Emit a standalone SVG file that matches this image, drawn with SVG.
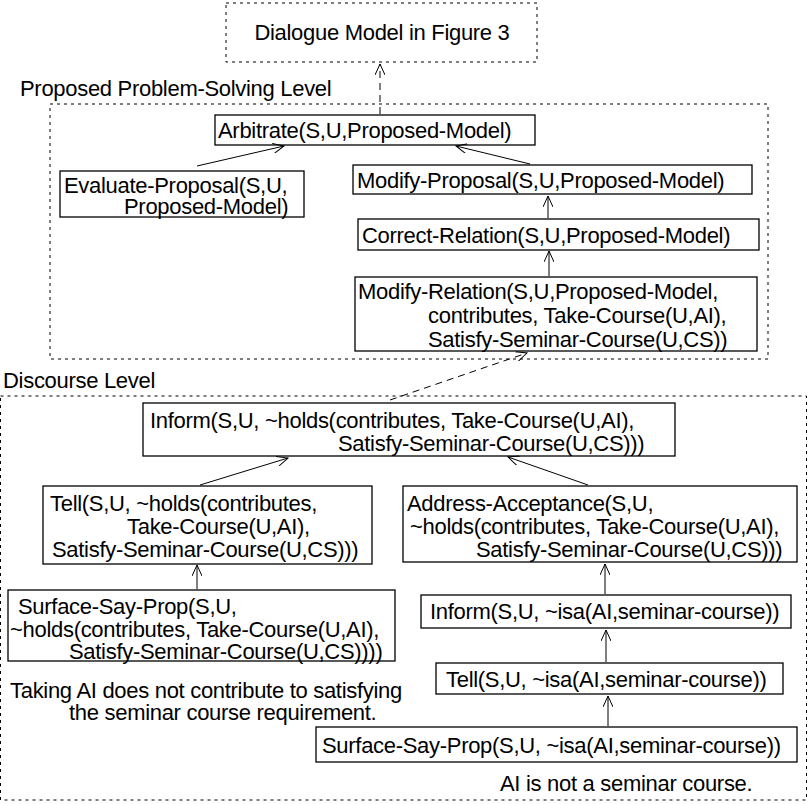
<svg xmlns="http://www.w3.org/2000/svg" width="811" height="804" viewBox="0 0 811 804">
<defs>
<marker id="ah" markerWidth="12" markerHeight="10" refX="11" refY="5" orient="auto" markerUnits="userSpaceOnUse">
<path d="M0,0 L11,5 L0,10" fill="none" stroke="#000" stroke-width="1"/>
</marker>
<style>
text{font-family:"Liberation Sans",Arial,sans-serif;font-size:22px;fill:#000;letter-spacing:-0.3px}
.b{fill:#fff;stroke:#000;stroke-width:1.3}
.d{fill:none;stroke:#000;stroke-width:1;stroke-dasharray:3,4}
.c{stroke:#000;stroke-width:1;fill:none;marker-end:url(#ah)}
.cd{stroke:#000;stroke-width:1;fill:none;stroke-dasharray:7,5;marker-end:url(#ah)}
</style>
</defs>
<rect width="811" height="804" fill="#fff"/>
<g id="levels">
<rect class="d" x="226" y="3" width="311" height="59"/>
<rect class="d" x="50" y="104" width="718" height="255"/>
<rect class="d" x="0.5" y="396" width="806" height="404"/>
<text x="20" y="96">Proposed Problem-Solving Level</text>
<text x="3" y="388">Discourse Level</text>
</g>
<g id="n-dialogue"><text x="382" y="40" text-anchor="middle">Dialogue Model in Figure 3</text></g>
<g id="n-arbitrate"><rect class="b" x="215" y="115" width="320" height="30"/><text x="218" y="138">Arbitrate(S,U,Proposed-Model)</text></g>
<g id="n-evaluate"><rect class="b" x="60" y="171" width="244" height="46"/><text x="64" y="193">Evaluate-Proposal(S,U,</text><text x="124" y="214">Proposed-Model)</text></g>
<g id="n-modprop"><rect class="b" x="353" y="165" width="399" height="29"/><text x="357" y="188">Modify-Proposal(S,U,Proposed-Model)</text></g>
<g id="n-correct"><rect class="b" x="358" y="219" width="401" height="31"/><text x="362" y="243">Correct-Relation(S,U,Proposed-Model)</text></g>
<g id="n-modrel"><rect class="b" x="355" y="277" width="402" height="74"/><text x="358" y="299">Modify-Relation(S,U,Proposed-Model,</text><text x="428" y="323">contributes, Take-Course(U,AI),</text><text x="428" y="347">Satisfy-Seminar-Course(U,CS))</text></g>
<g id="n-inform"><rect class="b" x="143" y="403" width="532" height="53"/><text x="150" y="428">Inform(S,U, ~holds(contributes, Take-Course(U,AI),</text><text x="338" y="451">Satisfy-Seminar-Course(U,CS)))</text></g>
<g id="n-tell"><rect class="b" x="43" y="486" width="329" height="78"/><text x="50" y="511">Tell(S,U, ~holds(contributes,</text><text x="127" y="534">Take-Course(U,AI),</text><text x="52" y="557">Satisfy-Seminar-Course(U,CS)))</text></g>
<g id="n-address"><rect class="b" x="403" y="486" width="394" height="76"/><text x="407" y="511">Address-Acceptance(S,U,</text><text x="410" y="534">~holds(contributes, Take-Course(U,AI),</text><text x="476" y="557">Satisfy-Seminar-Course(U,CS)))</text></g>
<g id="n-ssp1"><rect class="b" x="8" y="590" width="387" height="71"/><text x="18" y="614">Surface-Say-Prop(S,U,</text><text x="10" y="637">~holds(contributes, Take-Course(U,AI),</text><text x="69" y="659">Satisfy-Seminar-Course(U,CS))))</text></g>
<g id="n-note1"><text x="10" y="698">Taking AI does not contribute to satisfying</text><text x="69" y="720">the seminar course requirement.</text></g>
<g id="n-informisa"><rect class="b" x="421" y="595" width="370" height="33"/><text x="430" y="619">Inform(S,U, ~isa(AI,seminar-course))</text></g>
<g id="n-tellisa"><rect class="b" x="436" y="663" width="347" height="31"/><text x="446" y="687">Tell(S,U, ~isa(AI,seminar-course))</text></g>
<g id="n-sspisa"><rect class="b" x="316" y="727" width="481" height="35"/><text x="322" y="753">Surface-Say-Prop(S,U, ~isa(AI,seminar-course))</text></g>
<g id="n-note2"><text x="500" y="791">AI is not a seminar course.</text></g>
<g id="connectors">
<line class="cd" x1="380" y1="114" x2="380" y2="64"/>
<line class="c" x1="197" y1="166" x2="284" y2="146"/>
<line class="c" x1="530" y1="164" x2="456" y2="146"/>
<line class="c" x1="548" y1="218" x2="548" y2="196"/>
<line class="c" x1="549" y1="276" x2="549" y2="251"/>
<line class="cd" x1="390" y1="400" x2="527" y2="353"/>
<line class="c" x1="200" y1="485" x2="288" y2="458"/>
<line class="c" x1="588" y1="485" x2="508" y2="457"/>
<line class="c" x1="197" y1="589" x2="197" y2="565"/>
<line class="c" x1="605" y1="594" x2="605" y2="564"/>
<line class="c" x1="606" y1="662" x2="606" y2="630"/>
<line class="c" x1="608" y1="726" x2="608" y2="696"/>
</g>
</svg>
